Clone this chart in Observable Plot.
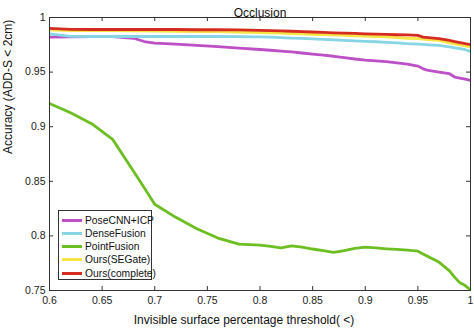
<!DOCTYPE html>
<html>
<head>
<meta charset="utf-8">
<script src="https://cdn.jsdelivr.net/npm/d3@7"></script>
<script src="https://cdn.jsdelivr.net/npm/@observablehq/plot@0.6"></script>
<style>
  html, body { margin: 0; padding: 0; background: #fff; }
  #wrap { position: relative; width: 474px; height: 330px; font-family: "Liberation Sans", Arial, Helvetica, sans-serif; }
  #legend { position: absolute; left: 58px; top: 210px; width: 94px; height: 70px; border: 1px solid #333; background: #fff; box-sizing: border-box; }
  .entry { position: absolute; left: 0; height: 13px; display: flex; align-items: center; font-size: 10.3px; color: #111; white-space: nowrap; }
  .sw { width: 20px; height: 3px; margin-left: 3px; margin-right: 3px; }
</style>
</head>
<body>
<div id="wrap"><div id="legend"></div></div>
<script>
const thresholds = [0.6,0.62,0.64,0.66,0.68,0.69,0.70,0.72,0.74,0.76,0.78,0.80,0.81,0.82,0.83,0.84,0.85,0.86,0.87,0.88,0.89,0.90,0.91,0.92,0.93,0.94,0.95,0.955,0.96,0.97,0.98,0.985,0.99,0.995,1.0];

const poseCNN = [0.982,0.9823,0.9825,0.9825,0.981,0.978,0.9765,0.9757,0.9745,0.9733,0.972,0.9707,0.970,0.9693,0.9685,0.9675,0.9665,0.9655,0.9645,0.9632,0.962,0.961,0.9603,0.9595,0.9585,0.9573,0.9555,0.953,0.9515,0.950,0.9485,0.9455,0.9445,0.9435,0.9424];
const denseFusion = [0.985,0.9828,0.9826,0.9826,0.9826,0.9826,0.9826,0.9826,0.9826,0.9826,0.9825,0.9822,0.982,0.9816,0.9812,0.9808,0.9804,0.980,0.9795,0.979,0.9786,0.9782,0.9778,0.9773,0.9767,0.976,0.9756,0.9753,0.975,0.9745,0.973,0.9722,0.9715,0.9705,0.969];
const pointFusion = [0.9212,0.9127,0.9028,0.8884,0.859,0.844,0.829,0.817,0.8065,0.798,0.7925,0.7915,0.7905,0.789,0.7908,0.7898,0.788,0.7865,0.785,0.7865,0.7885,0.7897,0.789,0.7882,0.7876,0.787,0.786,0.7835,0.781,0.776,0.768,0.762,0.757,0.7545,0.7505];
const oursSEGate = [0.9888,0.988,0.988,0.988,0.9878,0.9877,0.9876,0.9874,0.9872,0.987,0.9866,0.9862,0.986,0.9857,0.9853,0.985,0.9846,0.9843,0.984,0.9836,0.9833,0.983,0.9826,0.9822,0.9815,0.981,0.9806,0.9802,0.9798,0.979,0.9768,0.9758,0.975,0.974,0.9728];
const oursComplete = [0.990,0.9892,0.989,0.989,0.989,0.989,0.989,0.989,0.9888,0.9888,0.9886,0.9883,0.988,0.9877,0.9874,0.987,0.9867,0.9864,0.986,0.9857,0.9854,0.985,0.9847,0.9845,0.9842,0.984,0.9836,0.982,0.9815,0.9807,0.979,0.978,0.977,0.976,0.9752];

const seriesNames = ["PoseCNN+ICP","DenseFusion","PointFusion","Ours(SEGate)","Ours(complete)"];
const seriesValues = [poseCNN, denseFusion, pointFusion, oursSEGate, oursComplete];
const seriesColors = ["#bd4fc7","#86d4e4","#6cbf22","#f4e545","#d62b20"];

const xTicks = [0.6,0.65,0.7,0.75,0.8,0.85,0.9,0.95,1];
const yTicks = [0.75,0.8,0.85,0.9,0.95,1];

const titleText = "Occlusion";
const xLabel = "Invisible surface percentage threshold( <)";
const yLabel = "Accuracy (ADD-S < 2cm)";

const data = [];
seriesNames.forEach((name, i) => {
  thresholds.forEach((t, j) => data.push({name, x: t, y: seriesValues[i][j]}));
});

const W = 474, H = 330, mL = 49, mR = 4, mT = 17, mB = 40;
const innerH = H - mT - mB, innerW = W - mL - mR;
const fmt = d => String(+d.toFixed(2));
const font = "Liberation Sans, Arial, Helvetica, sans-serif";

const chart = Plot.plot({
  width: W, height: H,
  marginLeft: mL, marginRight: mR, marginTop: mT, marginBottom: mB,
  style: {fontFamily: font, fontSize: "10.5px", color: "#222", background: "#fff"},
  x: {domain: [0.6, 1]},
  y: {domain: [0.75, 1]},
  color: {domain: seriesNames, range: seriesColors},
  marks: [
    Plot.axisX({ticks: xTicks, tickFormat: fmt, tickSize: 0, tickPadding: 6, label: null, fontSize: 10.5}),
    Plot.axisY({ticks: yTicks, tickFormat: fmt, tickSize: 0, tickPadding: 4, label: null, fontSize: 10.5}),
    Plot.line(data, {x: "x", y: "y", z: "name", stroke: "name", strokeWidth: 2.8, strokeLinejoin: "round", strokeLinecap: "butt"}),
    Plot.tickX(xTicks, {x: d => d, insetTop: innerH - 4, stroke: "#333"}),
    Plot.tickX(xTicks, {x: d => d, insetBottom: innerH - 4, stroke: "#333"}),
    Plot.tickY(yTicks, {y: d => d, insetRight: innerW - 4, stroke: "#333"}),
    Plot.tickY(yTicks, {y: d => d, insetLeft: innerW - 4, stroke: "#333"}),
    Plot.frame({stroke: "#333", strokeWidth: 1}),
    Plot.text([titleText], {frameAnchor: "top", dy: -9, fontSize: 12, fill: "#111"}),
    Plot.text([xLabel], {frameAnchor: "bottom", dx: -16, dy: 33, fontSize: 12, fill: "#111"}),
    Plot.text([yLabel], {frameAnchor: "left", dx: -41, rotate: -90, fontSize: 12, fill: "#111"})
  ]
});

const wrap = document.getElementById("wrap");
wrap.insertBefore(chart, wrap.firstChild);

const legend = document.getElementById("legend");
seriesNames.forEach((name, i) => {
  const e = document.createElement("div");
  e.className = "entry";
  e.style.top = (2.5 + i * 13.3) + "px";
  const sw = document.createElement("span");
  sw.className = "sw";
  sw.style.background = seriesColors[i];
  const t = document.createElement("span");
  t.textContent = name;
  e.appendChild(sw); e.appendChild(t);
  legend.appendChild(e);
});
</script>
</body>
</html>
